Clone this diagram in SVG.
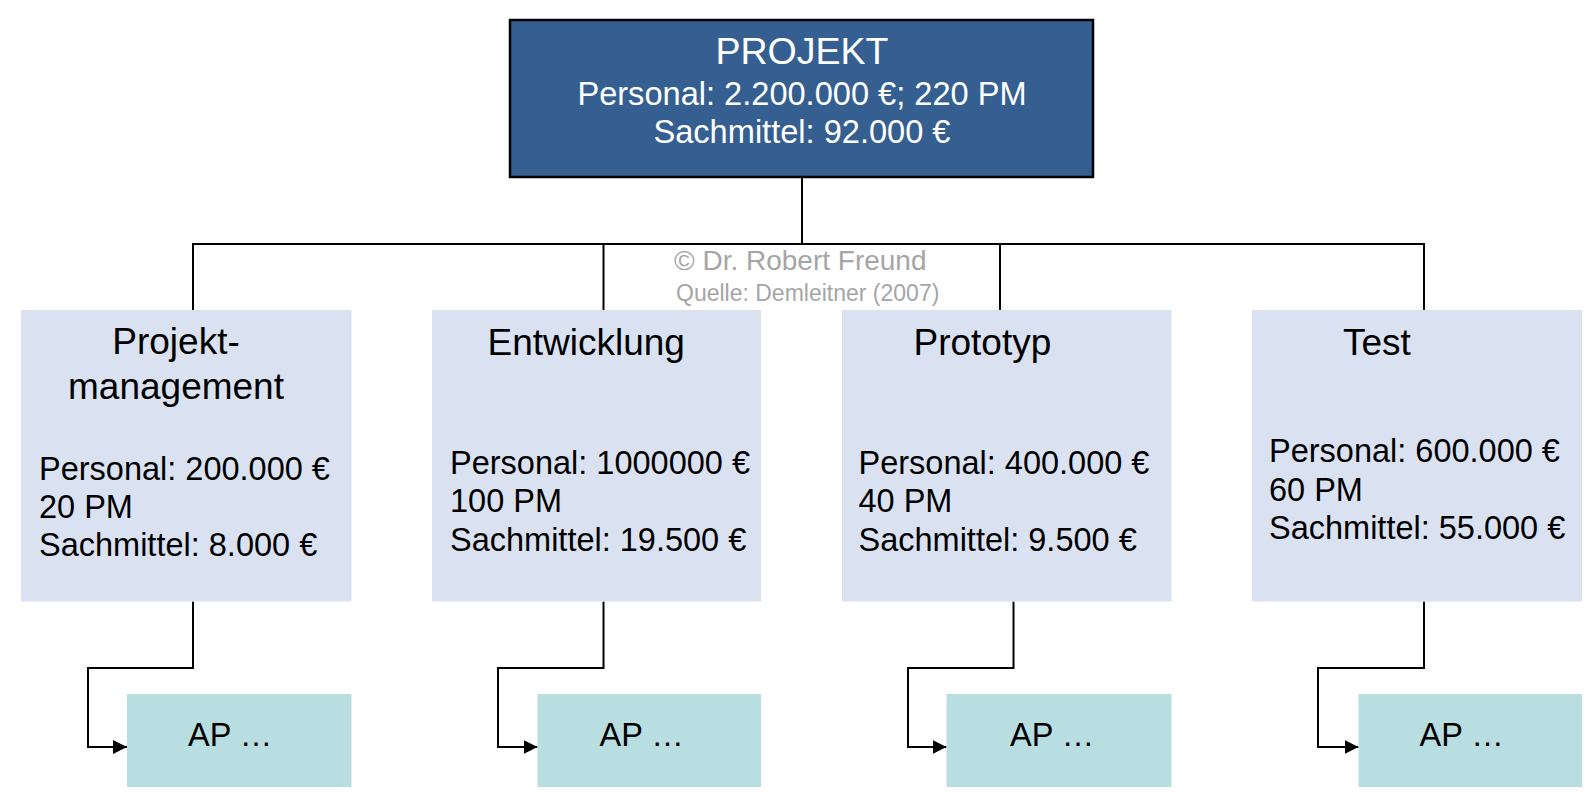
<svg xmlns="http://www.w3.org/2000/svg" width="1593" height="801" viewBox="0 0 1593 801">
<style>
  .t { font-family: "Liberation Sans", Arial, sans-serif; }
  .root { fill: #365F91; stroke: #000; stroke-width: 2.5; }
  .wp { fill: #DAE2F2; }
  .ap { fill: #B8DEE2; }
  .conn { fill: none; stroke: #000; stroke-width: 2; }
  .wt { font-family: "Liberation Sans", Arial, sans-serif; fill: #A5A5A5; }
  .title { font-size: 37px; fill: #000; }
  .body { font-size: 32.5px; fill: #000; }
  .apt { font-size: 32.5px; fill: #000; }
</style>
<defs>
  <marker id="arr" markerUnits="userSpaceOnUse" markerWidth="14" markerHeight="14" refX="14" refY="7" orient="auto">
    <path d="M0,0 L14,7 L0,14 z" fill="#000"/>
  </marker>
</defs>
<rect width="1593" height="801" fill="#fff"/>

<g id="connectors">
  <path class="conn" d="M802,177 V244"/>
  <path class="conn" d="M193,310 V244 H1424 V310"/>
  <path class="conn" d="M603.5,244 V310"/>
  <path class="conn" d="M1000,244 V310"/>
  <path class="conn" d="M193,601.5 V668 H88 V747 H127" marker-end="url(#arr)"/>
  <path class="conn" d="M603.5,601.5 V668 H498 V747 H537.5" marker-end="url(#arr)"/>
  <path class="conn" d="M1013.5,601.5 V668 H908 V747 H946.5" marker-end="url(#arr)"/>
  <path class="conn" d="M1424,601.5 V668 H1318 V747 H1358.5" marker-end="url(#arr)"/>
</g>

<g id="watermark">
  <text class="wt" x="674" y="270" font-size="28">© Dr. Robert Freund</text>
  <text class="wt" x="676" y="301" font-size="23">Quelle: Demleitner (2007)</text>
</g>

<g id="projekt">
  <rect class="root" x="510" y="20" width="583" height="157"/>
  <text class="t" x="802" y="64" font-size="37.5" fill="#fff" text-anchor="middle">PROJEKT</text>
  <text class="t" x="802" y="104.5" font-size="32.6" fill="#fff" text-anchor="middle">Personal: 2.200.000 €; 220 PM</text>
  <text class="t" x="802" y="143" font-size="32.6" fill="#fff" text-anchor="middle">Sachmittel: 92.000 €</text>
</g>

<g id="projektmanagement">
  <rect class="wp" x="21" y="310" width="330.5" height="291.5"/>
  <text class="t title" x="176" y="354" text-anchor="middle">Projekt-</text>
  <text class="t title" x="176" y="399" text-anchor="middle">management</text>
  <text class="t body" x="39" y="480">Personal: 200.000 €</text>
  <text class="t body" x="39" y="518">20 PM</text>
  <text class="t body" x="39" y="556">Sachmittel: 8.000 €</text>
</g>

<g id="entwicklung">
  <rect class="wp" x="432" y="310" width="329" height="291.5"/>
  <text class="t title" x="487.5" y="355">Entwicklung</text>
  <text class="t body" x="450" y="473.5">Personal: 1000000 €</text>
  <text class="t body" x="450" y="512">100 PM</text>
  <text class="t body" x="450" y="550.5">Sachmittel: 19.500 €</text>
</g>

<g id="prototyp">
  <rect class="wp" x="842" y="310" width="329.5" height="291.5"/>
  <text class="t title" x="913.5" y="355">Prototyp</text>
  <text class="t body" x="858.5" y="473.5">Personal: 400.000 €</text>
  <text class="t body" x="858.5" y="512">40 PM</text>
  <text class="t body" x="858.5" y="550.5">Sachmittel: 9.500 €</text>
</g>

<g id="test">
  <rect class="wp" x="1252" y="310" width="330" height="291.5"/>
  <text class="t title" x="1343" y="355">Test</text>
  <text class="t body" x="1269" y="462">Personal: 600.000 €</text>
  <text class="t body" x="1269" y="500.5">60 PM</text>
  <text class="t body" x="1269" y="539">Sachmittel: 55.000 €</text>
</g>

<g id="ap1">
  <rect class="ap" x="127" y="694" width="224.5" height="93"/>
  <text class="t apt" x="188" y="746">AP …</text>
</g>
<g id="ap2">
  <rect class="ap" x="537.5" y="694" width="223.5" height="93"/>
  <text class="t apt" x="599.5" y="746">AP …</text>
</g>
<g id="ap3">
  <rect class="ap" x="946.5" y="694" width="225" height="93"/>
  <text class="t apt" x="1010" y="746">AP …</text>
</g>
<g id="ap4">
  <rect class="ap" x="1358.5" y="694" width="223.5" height="93"/>
  <text class="t apt" x="1419.5" y="746">AP …</text>
</g>
</svg>
